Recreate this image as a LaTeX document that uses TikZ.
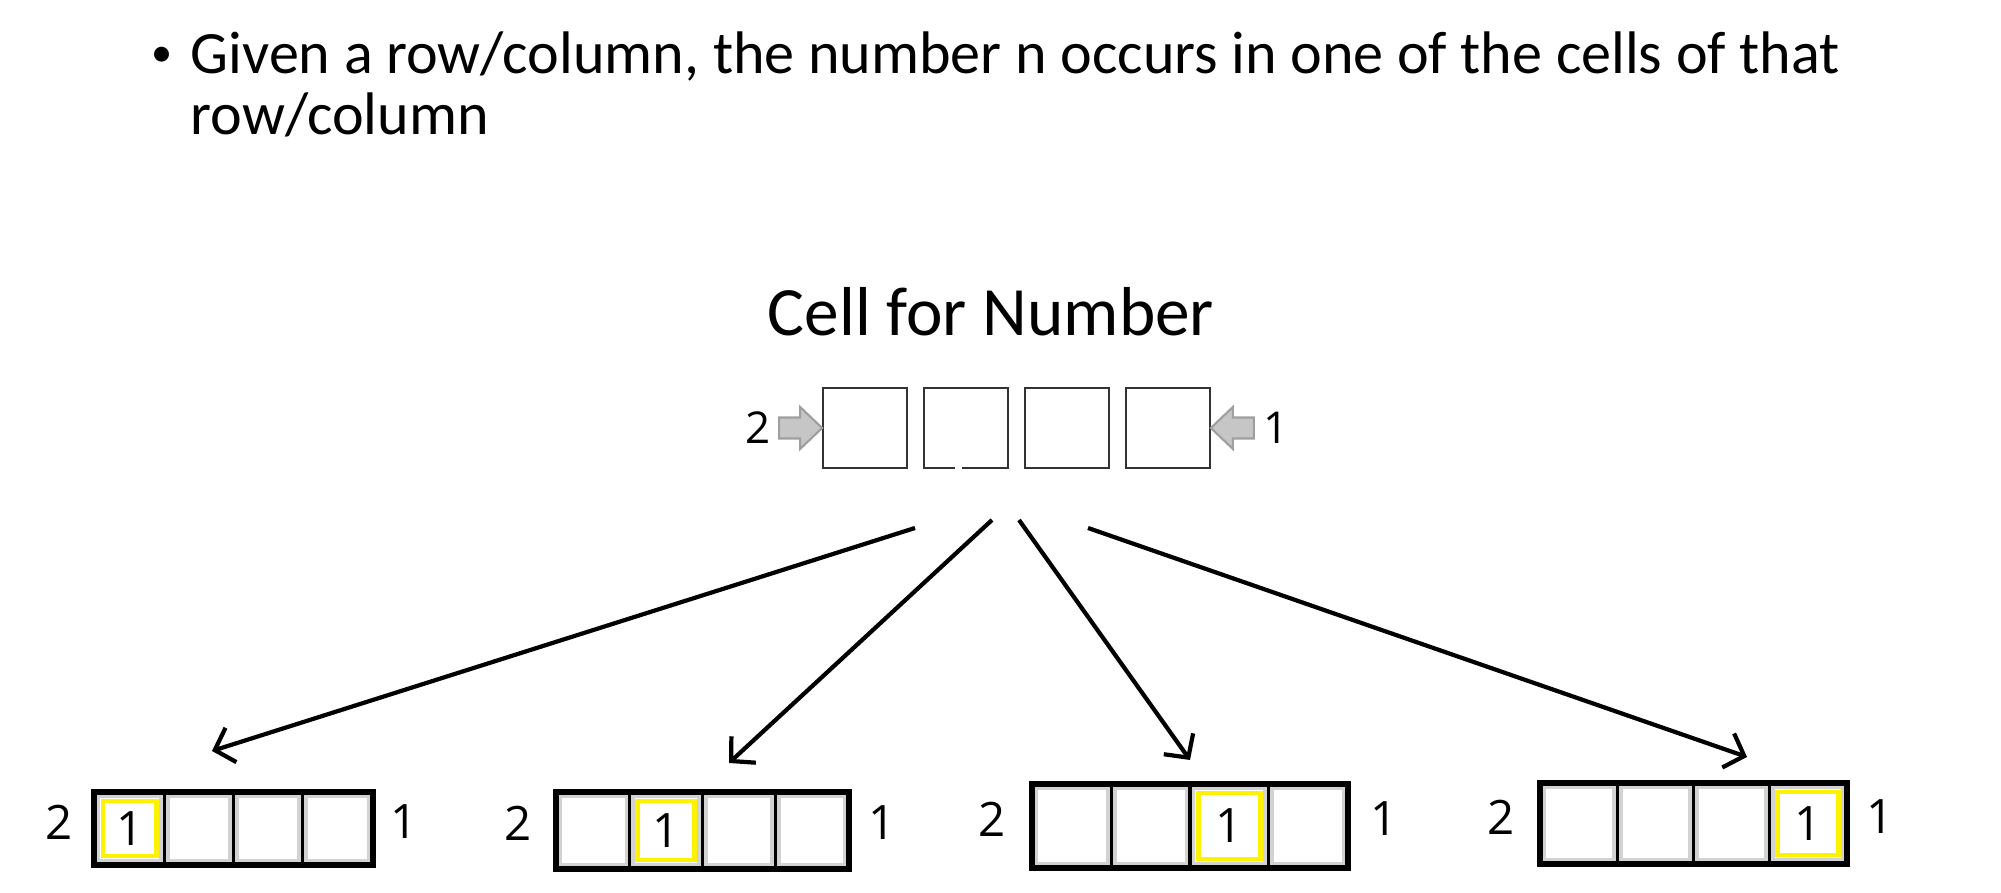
\documentclass[tikz,border=0pt]{standalone}
\usepackage{fontspec}
\setmainfont{Carlito}
\newfontfamily\digitfont{Open Sans}
\usetikzlibrary{arrows.meta}

\begin{document}
\begin{tikzpicture}[
  slot/.style={draw=black!80, line width=0.5pt, minimum width=0.84cm, minimum height=0.80cm, inner sep=0pt},
  feed/.style={fill=gray!45, draw=gray!75, line width=0.6pt},
  tag/.style={inner sep=0pt, font=\digitfont\fontsize{12.5}{14}\selectfont},
  digit/.style={inner sep=0pt, font=\digitfont\fontsize{13.5}{15}\selectfont},
  cellbox/.style={draw=black, line width=0.9pt, inner sep=0pt, font=\digitfont\fontsize{13.5}{15}\selectfont,
    path picture={\draw[gray!35, line width=3pt] (path picture bounding box.south west) rectangle (path picture bounding box.north east);}},
  hitcell/.style={draw=black, line width=0.9pt, inner sep=0pt, font=\digitfont\fontsize{13.5}{15}\selectfont,
    path picture={\draw[gray!35, line width=3pt] (path picture bounding box.south west) rectangle (path picture bounding box.north east);
      \draw[yellow, line width=1.4pt] ([shift={(0.08,0.08)}]path picture bounding box.south west) rectangle ([shift={(-0.08,-0.08)}]path picture bounding box.north east);}},
  frame/.style={draw=black, line width=1.5pt},
  link/.style={-{Straight Barb[length=1.7mm,width=3.6mm]}, line width=1.2pt},
  sizeA/.style={minimum width=0.6925cm, minimum height=0.71cm},
  sizeB/.style={minimum width=0.7275cm, minimum height=0.75cm},
  sizeC/.style={minimum width=0.785cm, minimum height=0.82cm},
  sizeD/.style={minimum width=0.7625cm, minimum height=0.79cm}
]
\useasboundingbox (0,0) rectangle (20.01,8.93);

% Bullet point
\node[inner sep=0pt, font=\fontsize{12}{14}\selectfont] (dot) at (1.62,8.36) {•};
\node[anchor=base west, inner sep=0pt, font=\fontsize{17.1}{20}\selectfont] (line1) at (1.90,8.19) {Given a row/column, the number n occurs in one of the cells of that};
\node[anchor=base west, inner sep=0pt, font=\fontsize{17.1}{20}\selectfont] (line2) at (1.90,7.58) {row/column};

% Cell for Number (top)
\node[anchor=base, inner sep=0pt, font=\fontsize{19.7}{23}\selectfont] (title) at (9.91,5.57) {Cell for Number};

\node[slot] (slot1) at (8.65,4.65) {};
\node[slot] (slot2) at (9.66,4.65) {};
\node[slot] (slot3) at (10.67,4.65) {};
\node[slot] (slot4) at (11.68,4.65) {};
\draw[white, line width=1pt] ([xshift=-0.11cm]slot2.south) -- ([xshift=-0.04cm]slot2.south);

% Entry arrows
\draw[feed] (slot1.west) -- ++(-0.22,0.21) -- ++(0,-0.105) -- ++(-0.21,0) -- ++(0,-0.21) -- ++(0.21,0) -- ++(0,-0.105) -- cycle;
\draw[feed] (slot4.east) -- ++(0.22,0.21) -- ++(0,-0.105) -- ++(0.21,0) -- ++(0,-0.21) -- ++(-0.21,0) -- ++(0,-0.105) -- cycle;
\node[tag] (enter2) at (7.58,4.65) {2};
\node[tag] (enter1) at (12.76,4.65) {1};

% Row A (first cell)
\node[hitcell, sizeA] (rowA1) at (1.296,0.645) {1};
\node[cellbox, sizeA] (rowA2) at (1.989,0.645) {};
\node[cellbox, sizeA] (rowA3) at (2.681,0.645) {};
\node[cellbox, sizeA] (rowA4) at (3.374,0.645) {};
\draw[frame] (rowA1.north west) rectangle (rowA4.south east);
\node[digit] (twoA) at (0.59,0.71) {2};
\node[digit] (oneA) at (4.04,0.71) {1};

% Row B (second cell)
\node[cellbox, sizeB] (rowB1) at (5.934,0.625) {};
\node[hitcell, sizeB] (rowB2) at (6.661,0.625) {1};
\node[cellbox, sizeB] (rowB3) at (7.389,0.625) {};
\node[cellbox, sizeB] (rowB4) at (8.116,0.625) {};
\draw[frame] (rowB1.north west) rectangle (rowB4.south east);
\node[digit] (twoB) at (5.18,0.70) {2};
\node[digit] (oneB) at (8.82,0.70) {1};

% Row C (third cell)
\node[cellbox, sizeC] (rowC1) at (10.723,0.67) {};
\node[cellbox, sizeC] (rowC2) at (11.508,0.67) {};
\node[hitcell, sizeC] (rowC3) at (12.293,0.67) {1};
\node[cellbox, sizeC] (rowC4) at (13.078,0.67) {};
\draw[frame] (rowC1.north west) rectangle (rowC4.south east);
\node[digit] (twoC) at (9.92,0.74) {2};
\node[digit] (oneC) at (13.84,0.74) {1};

% Row D (fourth cell)
\node[cellbox, sizeD] (rowD1) at (15.791,0.695) {};
\node[cellbox, sizeD] (rowD2) at (16.554,0.695) {};
\node[cellbox, sizeD] (rowD3) at (17.316,0.695) {};
\node[hitcell, sizeD] (rowD4) at (18.079,0.695) {1};
\draw[frame] (rowD1.north west) rectangle (rowD4.south east);
\node[digit] (twoD) at (15.01,0.76) {2};
\node[digit] (oneD) at (18.80,0.76) {1};

% Connections
\coordinate (fromA) at (9.15,3.65);
\coordinate (fromB) at (9.92,3.73);
\coordinate (fromC) at (10.19,3.73);
\coordinate (fromD) at (10.88,3.65);
\coordinate (toA) at (2.12,1.42);
\coordinate (toB) at (7.29,1.30);
\coordinate (toC) at (11.90,1.33);
\coordinate (toD) at (17.47,1.36);
\draw[link] (fromA) -- (toA);
\draw[link] (fromB) -- (toB);
\draw[link] (fromC) -- (toC);
\draw[link] (fromD) -- (toD);

\end{tikzpicture}
\end{document}
